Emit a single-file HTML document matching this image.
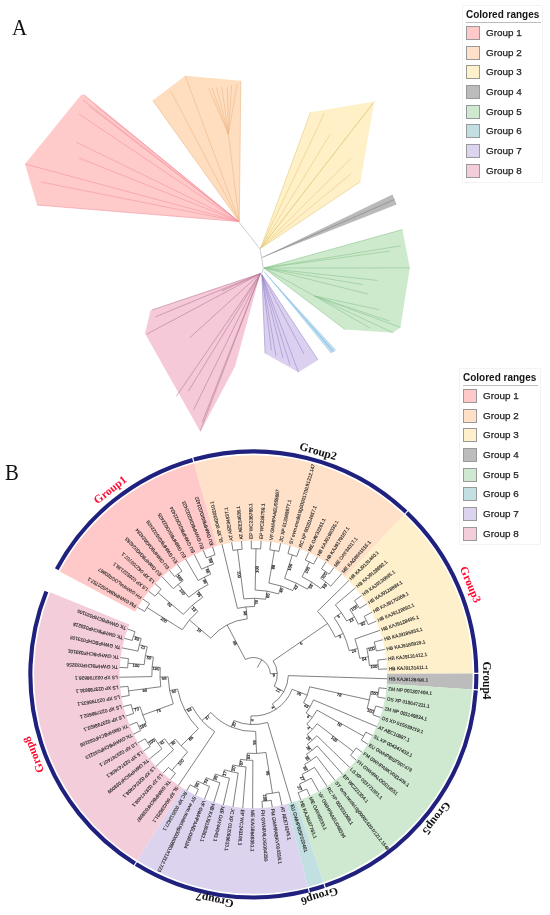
<!DOCTYPE html>
<html><head><meta charset="utf-8"><style>
html,body{margin:0;padding:0;background:#fff;}
body{width:550px;height:915px;position:relative;overflow:hidden;}
svg{position:absolute;left:0;top:0;}
.pl{position:absolute;font-family:"Liberation Serif",serif;font-size:22px;color:#111;line-height:1;}
.leg{position:absolute;width:80px;height:177px;border:1px solid #f3f3f3;font-family:"Liberation Sans",sans-serif;}
.lt{position:absolute;left:3px;top:3px;font-size:10px;font-weight:bold;color:#151515;white-space:nowrap;padding-bottom:2px;border-bottom:1.4px solid #bdbdbd;width:75px;}
.li{position:relative;height:19.7px;font-size:9.9px;color:#1e1e1e;-webkit-text-stroke:0.25px #1e1e1e;line-height:13px;padding-left:23px;white-space:nowrap;}
.sw{position:absolute;left:3px;top:0;width:12px;height:12px;border:1px solid #999;}
.items{position:absolute;left:0;top:20px;}
</style></head><body>
<div class="pl" style="left:12.2px;top:16.9px;font-size:22.5px;transform:scaleX(0.93);transform-origin:0 0">A</div>
<div class="pl" style="left:5px;top:460.7px;font-size:23.1px;transform:scaleX(0.9);transform-origin:0 0">B</div>
<svg width="550" height="915" viewBox="0 0 550 915">
<polygon points="238.8,221.5 84,94.5 81,95 25,164 37,205" fill="#ffcaca"/>
<polygon points="239.3,221.5 152.7,100.4 185.2,75.7 240.8,80.7" fill="#ffdec0"/>
<polygon points="260.6,248.3 310.5,112.2 374.3,101.5 360.4,181.7" fill="#fff0c8"/>
<polygon points="261.6,257.7 392.5,194.5 396.6,204.4" fill="#bababa"/>
<polygon points="264,268 402.4,229.6 409.8,267.9 400.4,327.4 393,332.7 345,329.5" fill="#cdeacd"/>
<polygon points="264,271.5 331,353.4 336,350" fill="#bcdcee"/>
<polygon points="261.9,274.8 318,359.9 298.4,372.2 265.1,353.4" fill="#dcd0f0"/>
<polygon points="260.4,273.6 150.5,310.4 145,333.6 200.4,431.8 235,366.4" fill="#f5c9d8"/>
<path d="M238.8,221.5L84,95M238.8,221.5L89,106M238.8,221.5L79,114M238.8,221.5L76,142M238.8,221.5L79,158M238.8,221.5L25,164M238.8,221.5L41,182M238.8,221.5L37,205M238.8,221.5L95,105M238.8,221.5L83,100" stroke="#f1949f" stroke-width="0.6" fill="none"/>
<path d="M239.3,221.5L185.2,75.7M239.3,221.5L170.5,90.5M239.3,221.5L152.7,100.4M239.3,221.5L228.4,134.2M239.3,221.5L240.8,80.7" stroke="#ecb684" stroke-width="0.6" fill="none"/>
<path d="M228.4,134.2L208.7,88.4M228.4,134.2L212,88M228.4,134.2L216.4,87.3M228.4,134.2L221.8,87.3M228.4,134.2L227.3,87.3M228.4,134.2L231.6,85.1M228.4,134.2L237.1,84" stroke="#ecb684" stroke-width="0.6" fill="none"/>
<path d="M260.6,248.3L310.5,112.2M260.6,248.3L324.4,113M260.6,248.3L330.1,134.3M260.6,248.3L372.6,104M260.6,248.3L374.3,101.5M260.6,248.3L351.4,158M260.6,248.3L351.4,173.6M260.6,248.3L360.4,181.7" stroke="#e4cb7c" stroke-width="0.6" fill="none"/>
<path d="M261.6,257.7L394.5,199.5" stroke="#808080" stroke-width="0.6" fill="none"/>
<path d="M264,268L402.4,229.6M264,268L400.4,245.9M264,268L389.9,251.1M264,268L409.8,267.9M264,268L377.4,280.4M264,268L362.7,284.6M264,268L368,294M264,268L314.6,296M264,268L345,329.5" stroke="#8cc490" stroke-width="0.6" fill="none"/>
<path d="M314.6,296L379.4,309.7M314.6,296L389.9,321.2M314.6,296L400.4,327.4M314.6,296L393,332.7M314.6,296L370,328" stroke="#8cc490" stroke-width="0.6" fill="none"/>
<path d="M264,271.5L333.5,351.7" stroke="#6cb4e4" stroke-width="0.6" fill="none"/>
<path d="M261.9,274.8L265.1,353.4M261.9,274.8L271.4,350.1M261.9,274.8L276,356M261.9,274.8L283,358M261.9,274.8L304.1,354.2M261.9,274.8L298.4,372.2M261.9,274.8L318,359.9M261.9,274.8L290,365" stroke="#9a88c8" stroke-width="0.6" fill="none"/>
<path d="M260.4,273.6L152.1,309.9M260.4,273.6L155.5,316.8M260.4,273.6L146.9,334.1M260.4,273.6L190,337.5M260.4,273.6L176.3,396.3M260.4,273.6L188.4,391.1M260.4,273.6L193.5,410M260.4,273.6L200.4,430.8M260.4,273.6L202.2,422.2M260.4,273.6L222,291" stroke="#b87898" stroke-width="0.6" fill="none"/>
<polyline points="238.9,222.1 259.9,248.8 261.6,257.7 263.3,268.5 261.8,273.6" fill="none" stroke="#c4bccc" stroke-width="0.8"/>
<path d="M59.72,571.54 A219.3,219.3 0 0 1 194.22,463.32 L217.27,545.66 A133.8,133.8 0 0 0 135.21,611.68 Z" fill="#ffc9c9"/>
<path d="M194.22,463.32 A219.3,219.3 0 0 1 403.91,515.05 L345.21,577.22 A133.8,133.8 0 0 0 217.27,545.66 Z" fill="#ffe1c9"/>
<path d="M403.91,515.05 A219.3,219.3 0 0 1 472.65,673.41 L387.15,673.83 A133.8,133.8 0 0 0 345.21,577.22 Z" fill="#fff0cc"/>
<path d="M472.65,673.41 A219.3,219.3 0 0 1 472.13,689.52 L386.84,683.67 A133.8,133.8 0 0 0 387.15,673.83 Z" fill="#bcbcbc"/>
<path d="M472.13,689.52 A219.3,219.3 0 0 1 323.45,882.29 L296.12,801.28 A133.8,133.8 0 0 0 386.84,683.67 Z" fill="#cee9d0"/>
<path d="M323.45,882.29 A219.3,219.3 0 0 1 307.99,886.88 L286.69,804.08 A133.8,133.8 0 0 0 296.12,801.28 Z" fill="#c2dfe2"/>
<path d="M307.99,886.88 A219.3,219.3 0 0 1 137.37,860.62 L182.59,788.06 A133.8,133.8 0 0 0 286.69,804.08 Z" fill="#dcd3ef"/>
<path d="M137.37,860.62 A219.3,219.3 0 0 1 50.02,592.35 L129.29,624.38 A133.8,133.8 0 0 0 182.59,788.06 Z" fill="#f3cdd9"/>
<path d="M56.73,569.29 A223.0,223.0 0 0 1 192.66,459.92" fill="none" stroke="#20217e" stroke-width="4.1"/>
<path d="M193.78,459.60 A223.0,223.0 0 0 1 406.02,511.96" fill="none" stroke="#20217e" stroke-width="4.1"/>
<path d="M406.87,512.76 A223.0,223.0 0 0 1 476.34,672.80" fill="none" stroke="#20217e" stroke-width="4.1"/>
<path d="M476.35,673.97 A223.0,223.0 0 0 1 475.87,689.20" fill="none" stroke="#20217e" stroke-width="4.1"/>
<path d="M475.79,690.36 A223.0,223.0 0 0 1 325.19,885.61" fill="none" stroke="#20217e" stroke-width="4.1"/>
<path d="M324.08,885.98 A223.0,223.0 0 0 1 309.48,890.32" fill="none" stroke="#20217e" stroke-width="4.1"/>
<path d="M308.35,890.61 A223.0,223.0 0 0 1 135.91,864.07" fill="none" stroke="#20217e" stroke-width="4.1"/>
<path d="M134.92,863.45 A223.0,223.0 0 0 1 46.37,591.50" fill="none" stroke="#20217e" stroke-width="4.1"/>
<g font-family="Liberation Sans, sans-serif" font-size="4.8" fill="#2a2a2a" stroke="#2a2a2a" stroke-width="0.14"><text transform="translate(136.04,606.48) rotate(210.11)" dy="1.6">FM GWHPABKV022757.1</text><text transform="translate(141.36,598.04) rotate(214.32)" dy="1.6">FH GWHPALOG020867</text><text transform="translate(147.28,590.02) rotate(218.54)" dy="1.6">LS XP 026522139.1</text><text transform="translate(153.78,582.45) rotate(222.75)" dy="1.6">LS XP 042703707.1</text><text transform="translate(160.81,575.39) rotate(226.96)" dy="1.6">EU GWHPBGIG024283</text><text transform="translate(168.34,568.85) rotate(231.18)" dy="1.6">EU GWHPBGIG024284</text><text transform="translate(176.34,562.89) rotate(235.39)" dy="1.6">EU GWHPBGIG022426</text><text transform="translate(184.75,557.53) rotate(239.61)" dy="1.6">EU GWHPBGIG022425</text><text transform="translate(193.53,552.81) rotate(243.82)" dy="1.6">EU GWHPBGIG022424</text><text transform="translate(202.63,548.74) rotate(248.04)" dy="1.6">EU GWHPBGIG022423</text><text transform="translate(212.01,545.36) rotate(252.25)" dy="1.6">EU GWHPBGIG022422</text><text transform="translate(221.61,542.67) rotate(256.46)" dy="1.6">SL XP 004230210.1</text><text transform="translate(231.39,540.69) rotate(260.68)" dy="1.6">AT AEE34637.1</text><text transform="translate(241.28,539.44) rotate(264.89)" dy="1.6">AT AEE34636.1</text><text transform="translate(251.24,538.92) rotate(269.11)" dy="1.6">EP WC238760.1</text><text transform="translate(261.21,539.13) rotate(273.32)" dy="1.6">EP WC238759.1</text><text transform="translate(271.13,540.07) rotate(277.54)" dy="1.6">VF GWHPAAEU055867</text><text transform="translate(280.96,541.74) rotate(281.75)" dy="1.6">JC XP 012068677.1</text><text transform="translate(290.65,544.13) rotate(285.96)" dy="1.6">SY evm.model.tig00001700.fr1212.147</text><text transform="translate(300.12,547.22) rotate(290.18)" dy="1.6">RC XP 002514917.1</text><text transform="translate(309.35,551.00) rotate(294.39)" dy="1.6">ME OAY32261.1</text><text transform="translate(318.28,555.45) rotate(298.61)" dy="1.6">HB KAJ9169335.1</text><text transform="translate(326.85,560.55) rotate(302.82)" dy="1.6">HB KAJ9179187.1</text><text transform="translate(335.02,566.26) rotate(307.04)" dy="1.6">ME OAY34317.1</text><text transform="translate(342.76,572.55) rotate(311.25)" dy="1.6">ME KAG8641515.1</text><text transform="translate(350.01,579.40) rotate(315.46)" dy="1.6">HB KAJ9131440.1</text><text transform="translate(356.74,586.76) rotate(319.68)" dy="1.6">HB KAJ9128892.1</text><text transform="translate(362.90,594.59) rotate(323.89)" dy="1.6">HB KAJ9128895.1</text><text transform="translate(368.48,602.86) rotate(328.11)" dy="1.6">HB KAJ9128894.1</text><text transform="translate(373.43,611.51) rotate(332.32)" dy="1.6">HB KAJ9170368.1</text><text transform="translate(377.74,620.51) rotate(336.54)" dy="1.6">HB KAJ9128893.1</text><text transform="translate(381.37,629.79) rotate(340.75)" dy="1.6">HB KAJ9128495.1</text><text transform="translate(384.31,639.32) rotate(344.96)" dy="1.6">HB KAJ9185933.1</text><text transform="translate(386.54,649.04) rotate(349.18)" dy="1.6">HB KAJ9185929.1</text><text transform="translate(388.05,658.90) rotate(353.39)" dy="1.6">HB KAJ9131412.1</text><text transform="translate(388.83,668.84) rotate(357.61)" dy="1.6">HB KAJ9131411.1</text><text transform="translate(388.88,678.81) rotate(361.82)" dy="1.6">HB KAJ9128496.1</text><text transform="translate(388.20,688.76) rotate(366.04)" dy="1.6">ZM NP 001307404.1</text><text transform="translate(386.79,698.63) rotate(370.25)" dy="1.6">OS XP 015647211.1</text><text transform="translate(384.65,708.37) rotate(374.46)" dy="1.6">ZM NP 001149834.1</text><text transform="translate(381.81,717.93) rotate(378.68)" dy="1.6">OS XP 015639219.1</text><text transform="translate(378.27,727.25) rotate(382.89)" dy="1.6">AT AEC10887.1</text><text transform="translate(374.06,736.29) rotate(387.11)" dy="1.6">SL XP 004247432.1</text><text transform="translate(369.19,744.99) rotate(391.32)" dy="1.6">EU GWHPBISF007478</text><text transform="translate(363.69,753.31) rotate(395.54)" dy="1.6">FM GWHPABKV021405.1</text><text transform="translate(357.60,761.21) rotate(399.75)" dy="1.6">FH GWHPALOG019551</text><text transform="translate(350.95,768.63) rotate(403.96)" dy="1.6">LS XP 023771881.1</text><text transform="translate(343.77,775.55) rotate(408.18)" dy="1.6">EP WC221354.1</text><text transform="translate(336.10,781.92) rotate(412.39)" dy="1.6">SY evm.model.tig00001420.fr1212.1548</text><text transform="translate(327.98,787.71) rotate(416.61)" dy="1.6">RC XP 002531068.1</text><text transform="translate(319.46,792.89) rotate(420.82)" dy="1.6">VF GWHPAAEU048534</text><text transform="translate(310.58,797.43) rotate(425.04)" dy="1.6">ME OAY49033.1</text><text transform="translate(301.39,801.30) rotate(429.25)" dy="1.6">HB KAJ9187763.1</text><text transform="translate(291.94,804.49) rotate(433.46)" dy="1.6">EU GWHPBISF020481</text><text transform="translate(282.29,806.98) rotate(437.68)" dy="1.6">AT AEE74245.1</text><text transform="translate(272.47,808.74) rotate(441.89)" dy="1.6">FM GWHPABKV004318.1</text><text transform="translate(262.56,809.79) rotate(446.11)" dy="1.6">FH GWHPALOG004230</text><text transform="translate(252.59,810.10) rotate(450.32)" dy="1.6">ME KAG8648351.1</text><text transform="translate(242.63,809.68) rotate(454.54)" dy="1.6">EP WC243106.1</text><text transform="translate(232.72,808.52) rotate(458.75)" dy="1.6">JC XP 012089613.1</text><text transform="translate(222.93,806.64) rotate(462.96)" dy="1.6">ME OAY44043.1</text><text transform="translate(213.30,804.05) rotate(467.18)" dy="1.6">HB KAJ9130382.1</text><text transform="translate(203.89,800.76) rotate(471.39)" dy="1.6">VF GWHPAAEU038184</text><text transform="translate(194.74,796.78) rotate(475.61)" dy="1.6">SY evm.model.tig00000880.fr1212.723</text><text transform="translate(185.92,792.14) rotate(479.82)" dy="1.6">RC XP 002512427.1</text><text transform="translate(177.45,786.87) rotate(484.04)" dy="1.6">SL XP 004236231.1</text><text transform="translate(169.40,780.99) rotate(488.25)" dy="1.6">TK GWHPBCHF033097</text><text transform="translate(161.80,774.53) rotate(492.46)" dy="1.6">LS XP 023747409.1</text><text transform="translate(154.70,767.53) rotate(496.68)" dy="1.6">LS XP 023747408.1</text><text transform="translate(148.13,760.03) rotate(500.89)" dy="1.6">TK GWHPBCHF033099</text><text transform="translate(142.13,752.07) rotate(505.11)" dy="1.6">LS XP 023747408.1</text><text transform="translate(136.73,743.69) rotate(509.32)" dy="1.6">LS XP 023747407.1</text><text transform="translate(131.96,734.93) rotate(513.54)" dy="1.6">TK GWHPBCHF033213</text><text transform="translate(127.85,725.84) rotate(517.75)" dy="1.6">TK GWHPBCHF033106</text><text transform="translate(124.41,716.48) rotate(521.96)" dy="1.6">LS XP 023798622.1</text><text transform="translate(121.68,706.89) rotate(526.18)" dy="1.6">LS XP 023798602.1</text><text transform="translate(119.65,697.13) rotate(530.39)" dy="1.6">LS XP 023798633.1</text><text transform="translate(118.35,687.24) rotate(534.61)" dy="1.6">LS XP 023798631.1</text><text transform="translate(117.78,677.29) rotate(538.82)" dy="1.6">LS XP 023798626.1</text><text transform="translate(117.94,667.32) rotate(543.04)" dy="1.6">TK GWHPBCHF033256</text><text transform="translate(118.83,657.39) rotate(547.25)" dy="1.6">TK GWHPBCHF033101</text><text transform="translate(120.46,647.55) rotate(551.46)" dy="1.6">TK GWHPBCHF033102</text><text transform="translate(122.80,637.86) rotate(555.68)" dy="1.6">TK GWHPBCHF033215</text><text transform="translate(125.84,628.36) rotate(559.89)" dy="1.6">TK GWHPBCHF033105</text></g>
<g font-family="Liberation Serif, serif" font-weight="bold" font-size="11.5"><text transform="translate(110.30,490.08) rotate(322.20)" fill="#ff0a30" text-anchor="middle" dy="3.4">Group1</text><text transform="translate(318.10,451.62) rotate(376.20)" fill="#111" text-anchor="middle" dy="3.4">Group2</text><text transform="translate(470.18,584.68) rotate(427.50)" fill="#ff0a30" text-anchor="middle" dy="3.4">Group3</text><text transform="translate(486.37,680.48) rotate(90.00)" fill="#111" text-anchor="middle" dy="3.4">Group4</text><text transform="translate(436.52,818.02) rotate(128.08)" fill="#111" text-anchor="middle" dy="3.4">Group5</text><text transform="translate(319.37,895.97) rotate(163.40)" fill="#111" text-anchor="middle" dy="3.4">Group6</text><text transform="translate(214.82,899.93) rotate(192.00)" fill="#111" text-anchor="middle" dy="3.4">Group7</text><text transform="translate(33.88,754.51) rotate(-112.00)" fill="#ff0a30" text-anchor="middle" dy="3.4">Group8</text></g>
<path d="M245.40,659.48A17.00,17.00 0 0 1 270.33,673.74M245.40,659.48L227.15,625.01M210.73,638.17A56.00,56.00 0 0 1 247.26,618.83M210.73,638.17L189.42,620.01M182.28,629.72A84.00,84.00 0 0 1 197.88,611.42M182.28,629.72L147.03,607.51M144.64,611.46A125.67,125.67 0 0 1 149.56,603.64M144.64,611.46L137.43,607.28M149.56,603.64L142.68,598.95M197.88,611.42L192.38,605.16M183.29,614.36A92.33,92.33 0 0 1 202.67,597.32M183.29,614.36L158.00,592.65M155.05,596.21A125.67,125.67 0 0 1 161.07,589.20M155.05,596.21L148.53,591.02M161.07,589.20L154.95,583.54M202.67,597.32L198.10,590.35M188.81,597.24A100.67,100.67 0 0 1 208.11,584.57M188.81,597.24L178.13,584.45M173.28,588.74A117.33,117.33 0 0 1 183.21,580.44M173.28,588.74L161.90,576.56M183.21,580.44L178.22,573.76M174.57,576.59A125.67,125.67 0 0 1 181.98,571.07M174.57,576.59L169.35,570.10M181.98,571.07L177.25,564.21M208.11,584.57L204.37,577.13M198.20,580.48A109.00,109.00 0 0 1 210.73,574.18M198.20,580.48L185.56,558.91M210.73,574.18L207.47,566.51M201.59,569.20A117.33,117.33 0 0 1 213.49,564.14M201.59,569.20L194.23,554.25M213.49,564.14L210.66,556.31M206.35,557.95A125.67,125.67 0 0 1 215.04,554.82M206.35,557.95L203.23,550.23M215.04,554.82L212.50,546.88M247.26,618.83L245.96,606.90M237.43,608.39A68.00,68.00 0 0 1 254.60,606.51M237.43,608.39L221.99,544.22M254.60,606.51L254.75,598.26M243.77,598.85A76.25,76.25 0 0 1 265.69,599.26M243.77,598.85L237.56,549.75M232.98,550.41A125.75,125.75 0 0 1 242.16,549.25M232.98,550.41L231.65,542.27M242.16,549.25L241.42,541.03M265.69,599.26L267.03,591.11M255.14,590.02A84.50,84.50 0 0 1 278.64,593.87M255.14,590.02L256.01,548.78M251.39,548.77A125.75,125.75 0 0 1 260.64,548.96M251.39,548.77L251.26,540.52M260.64,548.96L261.11,540.73M278.64,593.87L281.11,586.00M268.89,583.06A92.75,92.75 0 0 1 292.82,590.57M268.89,583.06L274.41,550.53M269.84,549.84A125.75,125.75 0 0 1 278.96,551.39M269.84,549.84L270.92,541.66M278.96,551.39L280.64,543.31M292.82,590.57L296.33,583.10M284.68,578.48A101.00,101.00 0 0 1 307.31,589.12M284.68,578.48L292.36,554.95M287.94,553.60A125.75,125.75 0 0 1 296.73,556.47M287.94,553.60L290.21,545.67M296.73,556.47L299.57,548.72M307.31,589.12L311.72,582.15M302.10,576.73A109.25,109.25 0 0 1 320.75,588.51M302.10,576.73L309.46,561.96M305.28,559.98A125.75,125.75 0 0 1 313.56,564.10M305.28,559.98L308.69,552.46M313.56,564.10L317.51,556.86M320.75,588.51L325.83,582.02M320.63,578.17A117.50,117.50 0 0 1 330.82,586.16M320.63,578.17L325.35,571.40M321.51,568.82A125.75,125.75 0 0 1 329.09,574.12M321.51,568.82L325.98,561.89M329.09,574.12L334.06,567.53M330.82,586.16L341.70,573.75M270.33,673.74L277.33,673.43M273.12,660.90A24.00,24.00 0 0 1 274.25,686.29M273.12,660.90L327.50,623.49M317.50,611.38A90.00,90.00 0 0 1 335.23,637.15M317.50,611.38L348.87,580.52M335.23,637.15L343.24,633.50M334.23,617.76A98.80,98.80 0 0 1 349.22,650.63M334.23,617.76L341.43,612.70M335.39,604.87A107.60,107.60 0 0 1 346.73,621.05M335.39,604.87L355.52,587.79M346.73,621.05L354.37,616.68M349.85,609.41A116.40,116.40 0 0 1 358.35,624.26M349.85,609.41L357.15,604.49M354.50,600.72A125.20,125.20 0 0 1 359.65,608.35M354.50,600.72L361.61,595.53M359.65,608.35L367.12,603.70M358.35,624.26L366.29,620.46M364.22,616.34A125.20,125.20 0 0 1 368.20,624.65M364.22,616.34L372.02,612.26M368.20,624.65L376.27,621.14M349.22,650.63L357.76,648.50M354.93,639.03A107.60,107.60 0 0 1 359.71,658.20M354.93,639.03L379.86,630.32M359.71,658.20L368.41,656.86M366.80,648.46A116.40,116.40 0 0 1 369.39,665.37M366.80,648.46L375.38,646.49M374.26,642.02A125.20,125.20 0 0 1 376.32,650.99M374.26,642.02L382.76,639.74M376.32,650.99L384.97,649.34M369.39,665.37L378.16,664.68M377.72,660.09A125.20,125.20 0 0 1 378.44,669.27M377.72,660.09L386.46,659.08M378.44,669.27L387.23,668.91M274.25,686.29L283.83,691.70M288.33,675.61A35.00,35.00 0 0 1 272.39,703.87M288.33,675.61L387.28,678.76M272.39,703.87L275.92,709.32M292.12,689.31A41.50,41.50 0 0 1 251.04,715.94M292.12,689.31L307.25,695.10M309.71,686.85A57.70,57.70 0 0 1 303.58,702.89M309.71,686.85L369.34,699.91M370.89,691.32A118.74,118.74 0 0 1 367.16,708.37M370.89,691.32L378.45,692.40M379.02,687.79A126.37,126.37 0 0 1 377.70,696.99M379.02,687.79L386.61,688.59M377.70,696.99L385.21,698.34M367.16,708.37L374.47,710.54M375.71,706.06A126.37,126.37 0 0 1 373.06,714.97M375.71,706.06L383.10,707.97M373.06,714.97L380.29,717.41M303.58,702.89L310.23,706.64M313.53,699.91A65.33,65.33 0 0 1 306.17,712.94M313.53,699.91L376.80,726.63M306.17,712.94L312.34,717.43M317.03,710.11A72.96,72.96 0 0 1 306.82,724.14M317.03,710.11L363.65,736.18M365.84,732.08A126.37,126.37 0 0 1 361.30,740.19M365.84,732.08L372.63,735.56M361.30,740.19L367.82,744.16M306.82,724.14L312.41,729.34M317.16,723.72A80.59,80.59 0 0 1 307.16,734.50M317.16,723.72L353.41,751.68M356.18,747.95A126.37,126.37 0 0 1 350.51,755.31M356.18,747.95L362.39,752.38M350.51,755.31L356.37,760.18M307.16,734.50L312.25,740.18M316.85,735.74A88.22,88.22 0 0 1 307.35,744.27M316.85,735.74L349.80,767.52M307.35,744.27L312.02,750.30M317.26,745.93A95.85,95.85 0 0 1 306.47,754.28M317.26,745.93L342.70,774.36M306.47,754.28L310.70,760.63M316.50,756.48A103.48,103.48 0 0 1 304.63,764.38M316.50,756.48L335.12,780.66M304.63,764.38L308.41,771.01M314.50,767.27A111.11,111.11 0 0 1 302.09,774.35M314.50,767.27L327.10,786.38M302.09,774.35L305.44,781.21M311.24,778.17A118.74,118.74 0 0 1 299.47,783.92M311.24,778.17L318.68,791.50M299.47,783.92L302.44,790.95M306.68,789.06A126.37,126.37 0 0 1 298.12,792.67M306.68,789.06L309.91,795.98M298.12,792.67L300.82,799.81M251.04,715.94L250.57,724.42M267.58,722.43A50.00,50.00 0 0 1 233.89,720.56M267.58,722.43L291.49,802.96M233.89,720.56L231.16,727.00M255.67,731.45A57.00,57.00 0 0 1 210.90,712.53M255.67,731.45L256.56,753.43M265.93,752.49A79.00,79.00 0 0 1 247.15,753.26M265.93,752.49L272.49,793.22M279.01,791.98A120.25,120.25 0 0 1 265.92,794.09M279.01,791.98L281.95,805.41M265.92,794.09L266.64,800.93M271.28,800.35A127.12,127.12 0 0 1 261.98,801.33M271.28,800.35L272.25,807.16M261.98,801.33L262.45,808.19M247.15,753.26L246.61,760.11M252.87,760.37A85.88,85.88 0 0 1 240.38,759.39M252.87,760.37L252.60,808.50M240.38,759.39L239.35,766.19M246.02,766.96A92.75,92.75 0 0 1 232.75,764.93M246.02,766.96L242.75,808.08M232.75,764.93L231.22,771.64M238.19,772.97A99.62,99.62 0 0 1 224.36,769.81M238.19,772.97L232.97,806.94M224.36,769.81L222.36,776.39M229.46,778.29A106.50,106.50 0 0 1 215.42,774.02M229.46,778.29L223.29,805.08M215.42,774.02L212.97,780.44M219.86,782.82A113.38,113.38 0 0 1 206.24,777.62M219.86,782.82L213.77,802.52M206.24,777.62L203.38,783.88M209.49,786.46A120.25,120.25 0 0 1 197.43,780.95M209.49,786.46L204.47,799.27M197.43,780.95L194.23,787.04M198.41,789.14A127.12,127.12 0 0 1 190.13,784.79M198.41,789.14L195.44,795.34M190.13,784.79L186.71,790.76M210.90,712.53L201.96,720.54M214.73,731.68A69.00,69.00 0 0 1 192.28,706.63M214.73,731.68L178.35,785.54M192.28,706.63L185.09,710.41M198.47,728.69A77.12,77.12 0 0 1 177.61,689.03M198.47,728.69L181.13,745.82M187.62,751.85A101.50,101.50 0 0 1 175.18,739.24M187.62,751.85L171.84,770.42M175.42,773.35A125.88,125.88 0 0 1 168.37,767.36M175.42,773.35L170.39,779.73M168.37,767.36L162.88,773.35M175.18,739.24L168.92,744.43M173.60,749.71A109.62,109.62 0 0 1 164.60,738.85M173.60,749.71L155.86,766.44M164.60,738.85L158.02,743.62M161.98,748.77A117.75,117.75 0 0 1 154.36,738.26M161.98,748.77L149.37,759.02M154.36,738.26L147.53,742.66M150.10,746.51A125.88,125.88 0 0 1 145.09,738.72M150.10,746.51L143.44,751.15M145.09,738.72L138.10,742.87M177.61,689.03L169.63,690.56M173.31,703.86A85.25,85.25 0 0 1 168.13,676.84M173.31,703.86L142.80,715.05M146.08,723.06A117.75,117.75 0 0 1 140.12,706.82M146.08,723.06L138.68,726.41M140.67,730.59A125.88,125.88 0 0 1 136.85,722.16M140.67,730.59L133.39,734.22M136.85,722.16L129.33,725.24M140.12,706.82L132.31,709.04M133.66,713.47A125.88,125.88 0 0 1 131.12,704.57M133.66,713.47L125.93,715.99M131.12,704.57L123.23,706.51M168.13,676.84L160.01,677.06M160.77,686.69A93.38,93.38 0 0 1 160.24,667.41M160.77,686.69L128.55,690.93M129.24,695.51A125.88,125.88 0 0 1 128.03,686.33M129.24,695.51L121.23,696.86M128.03,686.33L119.94,687.09M160.24,667.41L152.14,666.80M151.87,676.59A101.50,101.50 0 0 1 153.36,657.08M151.87,676.59L119.38,677.26M153.36,657.08L145.35,655.68M144.17,664.67A109.62,109.62 0 0 1 147.28,646.82M144.17,664.67L127.98,663.22M127.65,667.83A125.88,125.88 0 0 1 128.48,658.61M127.65,667.83L119.54,667.40M128.48,658.61L120.42,657.59M147.28,646.82L139.42,644.77M137.95,651.10A117.75,117.75 0 0 1 141.23,638.53M137.95,651.10L122.02,647.87M141.23,638.53L133.49,636.05M132.16,640.48A125.88,125.88 0 0 1 134.99,631.67M132.16,640.48L124.34,638.29M134.99,631.67L127.35,628.90M261.79,659.74L257.32,667.56" fill="none" stroke="#4a4a4a" stroke-width="0.7"/><g font-family="Liberation Sans, sans-serif" font-size="4.1" fill="#222" stroke="#222" stroke-width="0.18" text-anchor="middle"><text transform="translate(236.27,642.24) rotate(422.1)" dy="3.0">85</text><text transform="translate(200.08,629.09) rotate(400.4)" dy="3.0">18</text><text transform="translate(164.65,618.61) rotate(392.2)" dy="3.0">100</text><text transform="translate(195.13,608.29) rotate(408.7)" dy="3.0">13</text><text transform="translate(170.64,603.50) rotate(400.6)" dy="3.0">82</text><text transform="translate(200.38,593.84) rotate(416.7)" dy="3.0">95</text><text transform="translate(183.47,590.85) rotate(410.1)" dy="3.0">100</text><text transform="translate(180.71,577.10) rotate(413.3)" dy="3.0">100</text><text transform="translate(206.24,580.85) rotate(423.3)" dy="3.0">86</text><text transform="translate(209.10,570.34) rotate(427.0)" dy="3.0">68</text><text transform="translate(212.08,560.22) rotate(430.1)" dy="3.0">88</text><text transform="translate(246.61,612.87) rotate(443.8)" dy="3.0">98</text><text transform="translate(254.67,602.39) rotate(271.0)" dy="3.0">78</text><text transform="translate(240.67,574.30) rotate(442.8)" dy="3.0">100</text><text transform="translate(266.36,595.18) rotate(279.3)" dy="3.0">85</text><text transform="translate(255.58,569.40) rotate(271.2)" dy="3.0">100</text><text transform="translate(279.87,589.94) rotate(287.4)" dy="3.0">48</text><text transform="translate(271.65,566.79) rotate(279.6)" dy="3.0">88</text><text transform="translate(294.57,586.83) rotate(295.2)" dy="3.0">42</text><text transform="translate(288.52,566.72) rotate(288.1)" dy="3.0">100</text><text transform="translate(309.52,585.64) rotate(302.3)" dy="3.0">58</text><text transform="translate(305.78,569.35) rotate(296.5)" dy="3.0">100</text><text transform="translate(323.29,585.27) rotate(308.1)" dy="3.0">98</text><text transform="translate(322.99,574.78) rotate(304.9)" dy="3.0">100</text><text transform="translate(273.83,673.59) rotate(357.5)" dy="3.0">9</text><text transform="translate(300.31,642.19) rotate(325.5)" dy="3.0">6</text><text transform="translate(339.24,635.33) rotate(335.5)" dy="3.0">3</text><text transform="translate(337.83,615.23) rotate(324.9)" dy="3.0">6</text><text transform="translate(350.55,618.86) rotate(330.2)" dy="3.0">23</text><text transform="translate(353.50,606.95) rotate(326.0)" dy="3.0">100</text><text transform="translate(362.32,622.36) rotate(334.4)" dy="3.0">92</text><text transform="translate(353.49,649.56) rotate(346.0)" dy="3.0">24</text><text transform="translate(364.06,657.53) rotate(351.3)" dy="3.0">54</text><text transform="translate(371.09,647.47) rotate(347.1)" dy="3.0">100</text><text transform="translate(373.78,665.02) rotate(355.5)" dy="3.0">100</text><text transform="translate(279.04,689.00) rotate(389.4)" dy="3.0">22</text><text transform="translate(274.15,706.60) rotate(417.0)" dy="3.0">4</text><text transform="translate(299.68,692.20) rotate(380.9)" dy="3.0">26</text><text transform="translate(339.53,693.38) rotate(372.4)" dy="3.0">78</text><text transform="translate(374.67,691.86) rotate(368.1)" dy="3.0">100</text><text transform="translate(370.81,709.45) rotate(376.6)" dy="3.0">100</text><text transform="translate(306.91,704.76) rotate(389.5)" dy="3.0">43</text><text transform="translate(309.26,715.19) rotate(396.0)" dy="3.0">6</text><text transform="translate(340.34,723.14) rotate(389.2)" dy="3.0">50</text><text transform="translate(309.61,726.74) rotate(402.9)" dy="3.0">4</text><text transform="translate(335.29,737.70) rotate(397.6)" dy="3.0">100</text><text transform="translate(309.70,737.34) rotate(408.1)" dy="3.0">25</text><text transform="translate(309.68,747.28) rotate(412.3)" dy="3.0">36</text><text transform="translate(308.59,757.46) rotate(416.3)" dy="3.0">35</text><text transform="translate(306.52,767.69) rotate(420.3)" dy="3.0">36</text><text transform="translate(303.76,777.78) rotate(424.0)" dy="3.0">27</text><text transform="translate(300.95,787.43) rotate(427.1)" dy="3.0">37</text><text transform="translate(250.81,720.18) rotate(633.2)" dy="3.0">4</text><text transform="translate(232.53,723.78) rotate(652.9)" dy="3.0">20</text><text transform="translate(256.11,742.44) rotate(447.7)" dy="3.0">56</text><text transform="translate(269.21,772.85) rotate(440.8)" dy="3.0">96</text><text transform="translate(266.28,797.51) rotate(444.0)" dy="3.0">100</text><text transform="translate(246.88,756.68) rotate(634.5)" dy="3.0">53</text><text transform="translate(239.86,762.79) rotate(638.7)" dy="3.0">67</text><text transform="translate(231.99,768.29) rotate(642.8)" dy="3.0">20</text><text transform="translate(223.36,773.10) rotate(646.9)" dy="3.0">17</text><text transform="translate(214.19,777.23) rotate(650.9)" dy="3.0">25</text><text transform="translate(204.81,780.75) rotate(654.6)" dy="3.0">74</text><text transform="translate(195.83,784.00) rotate(657.7)" dy="3.0">95</text><text transform="translate(206.43,716.54) rotate(678.1)" dy="3.0">37</text><text transform="translate(188.69,708.52) rotate(692.3)" dy="3.0">53</text><text transform="translate(189.80,737.25) rotate(675.4)" dy="3.0">65</text><text transform="translate(179.73,761.13) rotate(670.4)" dy="3.0">100</text><text transform="translate(172.05,741.84) rotate(680.4)" dy="3.0">30</text><text transform="translate(161.31,741.24) rotate(684.1)" dy="3.0">41</text><text transform="translate(150.94,740.46) rotate(687.2)" dy="3.0">100</text><text transform="translate(173.62,689.79) rotate(709.1)" dy="3.0">60</text><text transform="translate(158.06,709.45) rotate(699.9)" dy="3.0">73</text><text transform="translate(142.38,724.74) rotate(695.6)" dy="3.0">100</text><text transform="translate(136.21,707.93) rotate(704.1)" dy="3.0">73</text><text transform="translate(164.07,676.95) rotate(718.4)" dy="3.0">59</text><text transform="translate(144.66,688.81) rotate(712.5)" dy="3.0">60</text><text transform="translate(156.19,667.10) rotate(724.4)" dy="3.0">100</text><text transform="translate(149.35,656.38) rotate(729.9)" dy="3.0">50</text><text transform="translate(136.07,663.94) rotate(725.1)" dy="3.0">100</text><text transform="translate(143.35,645.79) rotate(734.6)" dy="3.0">23</text><text transform="translate(137.36,637.29) rotate(737.8)" dy="3.0">52</text></g>
</svg>
<div class="leg" style="left:462px;top:5px;width:79px;height:176px"><div class="lt">Colored ranges</div><div class="items"><div class="li"><span class="sw" style="background:#ffc9c9"></span>Group 1</div><div class="li"><span class="sw" style="background:#ffe1c9"></span>Group 2</div><div class="li"><span class="sw" style="background:#fff0cc"></span>Group 3</div><div class="li"><span class="sw" style="background:#bcbcbc"></span>Group 4</div><div class="li"><span class="sw" style="background:#cee9d0"></span>Group 5</div><div class="li"><span class="sw" style="background:#c2dfe2"></span>Group 6</div><div class="li"><span class="sw" style="background:#dcd3ef"></span>Group 7</div><div class="li"><span class="sw" style="background:#f3cdd9"></span>Group 8</div></div></div>
<div class="leg" style="left:459px;top:368px;width:80px;height:175px"><div class="lt">Colored ranges</div><div class="items"><div class="li"><span class="sw" style="background:#ffc9c9"></span>Group 1</div><div class="li"><span class="sw" style="background:#ffe1c9"></span>Group 2</div><div class="li"><span class="sw" style="background:#fff0cc"></span>Group 3</div><div class="li"><span class="sw" style="background:#bcbcbc"></span>Group 4</div><div class="li"><span class="sw" style="background:#cee9d0"></span>Group 5</div><div class="li"><span class="sw" style="background:#c2dfe2"></span>Group 6</div><div class="li"><span class="sw" style="background:#dcd3ef"></span>Group 7</div><div class="li"><span class="sw" style="background:#f3cdd9"></span>Group 8</div></div></div>
</body></html>
